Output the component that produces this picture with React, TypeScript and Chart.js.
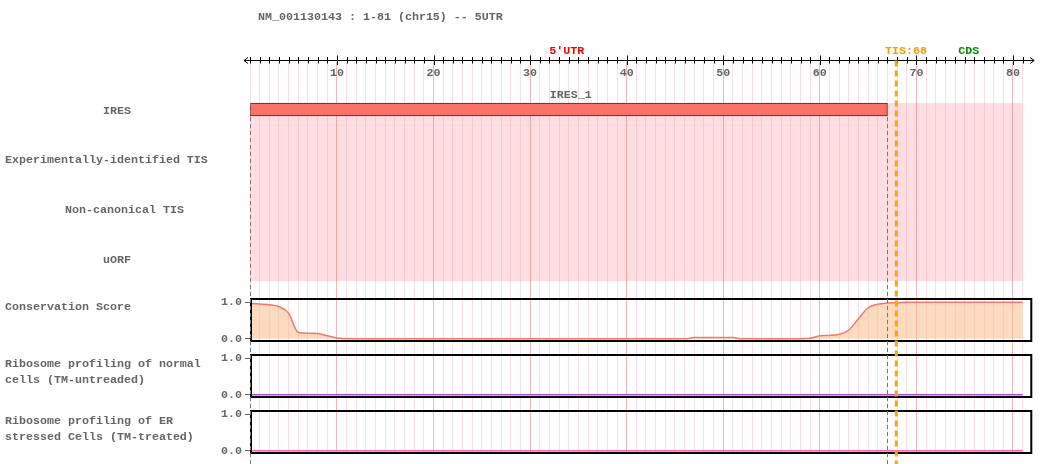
import React, { useEffect, useRef } from 'react';
import { Chart, registerables } from 'chart.js';

Chart.register(...registerables);

// ---------------- data ----------------
const TITLE = 'NM_001130143 : 1-81 (chr15) -- 5UTR';

const POSITIONS = [
  1, 2, 3, 4, 5, 6, 7, 8, 9, 10,
  11, 12, 13, 14, 15, 16, 17, 18, 19, 20,
  21, 22, 23, 24, 25, 26, 27, 28, 29, 30,
  31, 32, 33, 34, 35, 36, 37, 38, 39, 40,
  41, 42, 43, 44, 45, 46, 47, 48, 49, 50,
  51, 52, 53, 54, 55, 56, 57, 58, 59, 60,
  61, 62, 63, 64, 65, 66, 67, 68, 69, 70,
  71, 72, 73, 74, 75, 76, 77, 78, 79, 80,
  81,
];

const RULER_LABELS = [10, 20, 30, 40, 50, 60, 70, 80];
const PANEL_TICKS = [0, 1];

const UTR_LABEL = "5'UTR";
const CDS_LABEL = 'CDS';
const TIS_POSITION = 68;
const TIS_LABEL = 'TIS:68';

const IRES_NAMES = ['IRES_1'];
const IRES_STARTS = [1];
const IRES_ENDS = [67];

const TRACK_LABELS = ['IRES', 'Experimentally-identified TIS', 'Non-canonical TIS', 'uORF'];
const PANEL_LABELS = [
  ['Conservation Score'],
  ['Ribosome profiling of normal', 'cells (TM-untreaded)'],
  ['Ribosome profiling of ER', 'stressed Cells (TM-treated)'],
];

const CONSERVATION = [
  0.97, 0.95, 0.93, 0.88, 0.70, 0.17, 0.15, 0.14, 0.08, 0.02,
  0, 0, 0, 0, 0, 0, 0, 0, 0, 0,
  0, 0, 0, 0, 0, 0, 0, 0, 0, 0,
  0, 0, 0, 0, 0, 0, 0, 0, 0, 0,
  0, 0, 0, 0, 0, 0, 0.03, 0.035, 0.035, 0.035,
  0.03, 0, 0, 0, 0, 0, 0, 0, 0.01, 0.08,
  0.09, 0.12, 0.24, 0.55, 0.85, 0.95, 0.98, 0.99, 1, 1,
  1, 1, 1, 1, 1, 1, 1, 1, 1, 1,
  1,
];

const RIBO_UNTREATED = [
  0, 0, 0, 0, 0, 0, 0, 0, 0, 0,
  0, 0, 0, 0, 0, 0, 0, 0, 0, 0,
  0, 0, 0, 0, 0, 0, 0, 0, 0, 0,
  0, 0, 0, 0, 0, 0, 0, 0, 0, 0,
  0, 0, 0, 0, 0, 0, 0, 0, 0, 0,
  0, 0, 0, 0, 0, 0, 0, 0, 0, 0,
  0, 0, 0, 0, 0, 0, 0, 0, 0, 0,
  0, 0, 0, 0, 0, 0, 0, 0, 0, 0,
  0,
];

const RIBO_TREATED = [
  0, 0, 0, 0, 0, 0, 0, 0, 0, 0,
  0, 0, 0, 0, 0, 0, 0, 0, 0, 0,
  0, 0, 0, 0, 0, 0, 0, 0, 0, 0,
  0, 0, 0, 0, 0, 0, 0, 0, 0, 0,
  0, 0, 0, 0, 0, 0, 0, 0, 0, 0,
  0, 0, 0, 0, 0, 0, 0, 0, 0, 0,
  0, 0, 0, 0, 0, 0, 0, 0, 0, 0,
  0, 0, 0, 0, 0, 0, 0, 0, 0, 0,
  0,
];

// ---------------- styles ----------------
const MONO = '"Liberation Mono", "DejaVu Sans Mono", monospace';
const FONT_SIZE = 11.67;
const CANVAS_FONT = `bold ${FONT_SIZE}px ${MONO}`;
const TEXT_GRAY = '#666';

export default function App() {
  const canvasRef = useRef<HTMLCanvasElement>(null);

  useEffect(() => {
    const canvas = canvasRef.current;
    if (!canvas) return;

    const lastPos = POSITIONS[POSITIONS.length - 1];

    const decor = {
      id: 'genomeDecor',
      beforeDraw(chart: any) {
        const { ctx } = chart;
        const x = chart.scales.x;
        const yT = chart.scales.yTrack;
        ctx.save();
        ctx.fillStyle = '#ffdde0';
        const top = yT.getPixelForValue(0) - 6.5;
        const bottom = yT.bottom - 5;
        const l = x.getPixelForValue(POSITIONS[0]);
        const r = x.getPixelForValue(lastPos);
        ctx.fillRect(l, top, r - l, bottom - top);
        ctx.restore();
      },
      afterDatasetsDraw(chart: any) {
        const { ctx, chartArea } = chart;
        const x = chart.scales.x;
        const yT = chart.scales.yTrack;
        const H = chart.height;
        ctx.save();

        // panel frames
        ['yCons', 'yR1', 'yR2'].forEach((id) => {
          const s = chart.scales[id];
          const top = s.getPixelForValue(1) - 3.3;
          const bottom = s.getPixelForValue(0) + 2.3;
          const left = chartArea.left + 1;
          const right = chartArea.right - 1;
          ctx.strokeStyle = '#000';
          ctx.lineWidth = 2;
          ctx.setLineDash([]);
          ctx.strokeRect(left, top, right - left, bottom - top);
        });

        // IRES boundary dashed lines
        const barTop = yT.getPixelForValue(0) - 6.5;
        ctx.strokeStyle = '#777';
        ctx.lineWidth = 1;
        ctx.setLineDash([4, 3]);
        const bounds = [...IRES_STARTS, ...IRES_ENDS];
        bounds.forEach((p) => {
          const px = Math.round(x.getPixelForValue(p)) + 0.5;
          ctx.beginPath();
          ctx.moveTo(px, barTop);
          ctx.lineTo(px, H);
          ctx.stroke();
        });
        ctx.setLineDash([]);

        // IRES names
        ctx.font = CANVAS_FONT;
        ctx.fillStyle = TEXT_GRAY;
        ctx.textAlign = 'center';
        ctx.textBaseline = 'middle';
        IRES_NAMES.forEach((name, i) => {
          const cx = (x.getPixelForValue(IRES_STARTS[i]) + x.getPixelForValue(IRES_ENDS[i])) / 2 + 2;
          ctx.fillText(name, cx, barTop - 7.5);
        });

        // ruler
        const ry = chartArea.top - 1.5;
        const x0 = x.getPixelForValue(POSITIONS[0]) - 6;
        const x1 = x.getPixelForValue(lastPos) + 11.5;
        ctx.strokeStyle = '#000';
        ctx.lineWidth = 1;
        ctx.beginPath();
        ctx.moveTo(x0, ry);
        ctx.lineTo(x1, ry);
        ctx.moveTo(x0 + 4, ry - 3);
        ctx.lineTo(x0, ry);
        ctx.lineTo(x0 + 4, ry + 3);
        ctx.moveTo(x1 - 4, ry - 3);
        ctx.lineTo(x1, ry);
        ctx.lineTo(x1 - 4, ry + 3);
        POSITIONS.forEach((p) => {
          const px = Math.round(x.getPixelForValue(p)) + 0.5;
          const major = RULER_LABELS.includes(p);
          ctx.moveTo(px, ry - (major ? 5 : 3.5));
          ctx.lineTo(px, ry + (major ? 4.5 : 3));
        });
        ctx.stroke();

        ctx.fillStyle = TEXT_GRAY;
        ctx.textAlign = 'center';
        ctx.textBaseline = 'middle';
        RULER_LABELS.forEach((v) => {
          ctx.fillText(String(v), x.getPixelForValue(v), ry + 12.5);
        });

        // region labels
        const labY = ry - 9;
        ctx.fillStyle = '#ff0000';
        ctx.fillText(UTR_LABEL, (x.getPixelForValue(POSITIONS[0]) + x.getPixelForValue(TIS_POSITION - 1)) / 2 - 2, labY);
        ctx.fillStyle = '#ff9900';
        ctx.textAlign = 'left';
        ctx.fillText(TIS_LABEL, x.getPixelForValue(TIS_POSITION) - 12, labY);
        ctx.fillStyle = '#008f00';
        ctx.textAlign = 'center';
        ctx.fillText(CDS_LABEL, (x.getPixelForValue(TIS_POSITION) + chartArea.right) / 2 + 4, labY);

        // TIS dashed line
        const tx = x.getPixelForValue(TIS_POSITION) - 0.8;
        ctx.strokeStyle = '#ffa500';
        ctx.lineWidth = 3;
        ctx.setLineDash([6, 4]);
        ctx.beginPath();
        ctx.moveTo(tx, ry);
        ctx.lineTo(tx, H);
        ctx.stroke();

        ctx.restore();
      },
    };

    const panelAxis = (weight: number) => ({
      type: 'linear' as const,
      position: 'left' as const,
      stack: 'rows',
      stackWeight: 56,
      weight,
      offset: false,
      min: -0.0907,
      max: 1.4478,
      afterBuildTicks: (s: any) => {
        s.ticks = PANEL_TICKS.map((v) => ({ value: v }));
      },
      afterFit: (s: any) => {
        s.width = 250;
        s.paddingTop = 0;
        s.paddingBottom = 0;
      },
      ticks: {
        callback: (v: any) => Number(v).toFixed(1),
        font: { family: MONO, size: FONT_SIZE, weight: 'bold' as const },
        color: TEXT_GRAY,
        padding: 3,
      },
      grid: { drawOnChartArea: false, drawTicks: true, tickLength: 5, color: '#666', tickColor: '#666', tickWidth: 1 },
      border: { display: false },
    });

    const xy = (vals: number[]) => POSITIONS.map((p, i) => ({ x: p, y: vals[i] }));

    const chart = new Chart(canvas, {
      type: 'line',
      data: {
        datasets: [
          {
            type: 'bar',
            indexAxis: 'y',
            xAxisID: 'x',
            yAxisID: 'yTrack',
            data: IRES_STARTS.map((s, i) => ({ x: [s, IRES_ENDS[i]], y: 0 })),
            backgroundColor: '#f9726a',
            borderColor: '#a40000',
            borderWidth: 1,
            borderSkipped: false,
            barThickness: 13,
          } as any,
          {
            label: 'Conservation Score',
            data: xy(CONSERVATION),
            xAxisID: 'x',
            yAxisID: 'yCons',
            borderColor: '#f7766c',
            borderWidth: 1.5,
            backgroundColor: 'rgba(252, 190, 140, 0.55)',
            fill: 'origin',
            pointRadius: 0,
            cubicInterpolationMode: 'monotone',
          },
          {
            label: 'Ribosome untreated',
            data: xy(RIBO_UNTREATED),
            xAxisID: 'x',
            yAxisID: 'yR1',
            borderColor: '#b04be3',
            borderWidth: 1.5,
            pointRadius: 0,
            fill: false,
          },
          {
            label: 'Ribosome treated',
            data: xy(RIBO_TREATED),
            xAxisID: 'x',
            yAxisID: 'yR2',
            borderColor: '#ff5fb4',
            borderWidth: 1.5,
            pointRadius: 0,
            fill: false,
          },
        ],
      },
      options: {
        responsive: false,
        maintainAspectRatio: false,
        animation: false,
        devicePixelRatio: 1,
        events: [],
        layout: { padding: { left: 0, top: 62, right: 17.7, bottom: 10 } },
        plugins: { legend: { display: false }, tooltip: { enabled: false }, title: { display: false } },
        scales: {
          x: {
            type: 'linear',
            position: 'top',
            min: 1,
            max: 82,
            offset: false,
            beginAtZero: false,
            afterBuildTicks: (s: any) => {
              s.ticks = POSITIONS.map((v) => ({ value: v }));
            },
            afterFit: (s: any) => {
              s.height = 0;
              s.paddingLeft = 0;
              s.paddingRight = 0;
            },
            ticks: { display: false },
            border: { display: false },
            grid: {
              offset: false,
              drawTicks: false,
              lineWidth: 1,
              color: (ctx: any) =>
                ctx.tick && RULER_LABELS.includes(ctx.tick.value)
                  ? 'rgba(225, 120, 125, 0.55)'
                  : 'rgba(232, 160, 170, 0.32)',
            },
          },
          yTrack: {
            type: 'linear',
            position: 'left',
            stack: 'rows',
            stackWeight: 224,
            weight: 4,
            reverse: true,
            offset: false,
            min: -0.95,
            max: 3.53,
            afterFit: (s: any) => {
              s.width = 250;
              s.paddingTop = 0;
              s.paddingBottom = 0;
            },
            ticks: { display: false },
            grid: { display: false, offset: false },
            border: { display: false },
          },
          yCons: panelAxis(3),
          yR1: panelAxis(2),
          yR2: panelAxis(1),
        } as any,
      },
      plugins: [decor],
    } as any);

    return () => chart.destroy();
  }, []);

  const trackLayout = [
    { left: 103, cy: 109.3 },
    { left: 5, cy: 159 },
    { left: 65, cy: 209 },
    { left: 103, cy: 259 },
  ];
  const panelLayout = [
    { left: 5, cy: 305.7 },
    { left: 5, cy: 362.7 },
    { left: 5, cy: 419.7 },
  ];
  const LINE_H = 16.6;
  const NUDGE = 1.5;

  const textStyle: React.CSSProperties = {
    position: 'absolute',
    fontFamily: MONO,
    fontWeight: 'bold',
    fontSize: FONT_SIZE,
    color: TEXT_GRAY,
    whiteSpace: 'pre',
    lineHeight: `${LINE_H}px`,
  };

  return (
    <div style={{ position: 'absolute', left: 0, top: 0, width: 1050, height: 464, background: '#fff', overflow: 'hidden' }}>
      <canvas ref={canvasRef} width={1050} height={464} style={{ position: 'absolute', left: 0, top: 0, width: 1050, height: 464 }} />
      <div style={{ ...textStyle, left: 258, top: 16 - LINE_H / 2 + NUDGE }}>{TITLE}</div>
      {TRACK_LABELS.map((t, i) => (
        <div key={t} style={{ ...textStyle, left: trackLayout[i].left, top: trackLayout[i].cy - LINE_H / 2 + NUDGE }}>{t}</div>
      ))}
      {PANEL_LABELS.map((lines, i) => (
        <div key={i} style={{ ...textStyle, left: panelLayout[i].left, top: panelLayout[i].cy - LINE_H / 2 + NUDGE }}>
          {lines.map((l, j) => (
            <div key={j}>{l}</div>
          ))}
        </div>
      ))}
    </div>
  );
}
